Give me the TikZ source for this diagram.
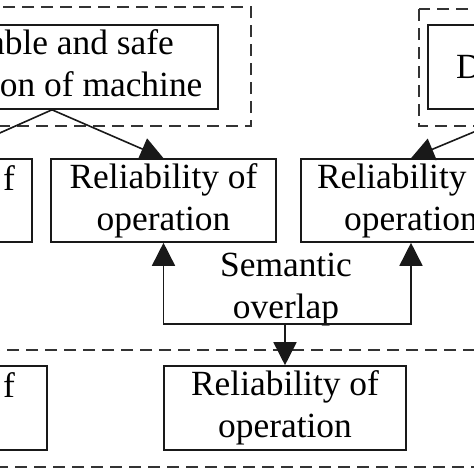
\documentclass[tikz,border=0pt]{standalone}
\usepackage{fontspec}
\setmainfont{Liberation Serif}
\usetikzlibrary{arrows.meta}
\begin{document}
\begin{tikzpicture}[x=1pt,y=-1pt,
  lbl/.style={font=\fontsize{35.4pt}{42pt}\selectfont, align=center, inner sep=0pt},
  box/.style={lbl, draw=black!90, line width=1.6pt},
  dbox/.style={draw=black!80, line width=1.6pt, dash pattern=on 12pt off 7pt},
  arr/.style={draw=black!90, line width=1.6pt, -{Triangle[length=23pt,width=23pt]}}]
\useasboundingbox (0,0) rectangle (474,474);
\clip (0,0) rectangle (474,474);
% dashed groups
\draw[dbox] (-130,7) rectangle (251,126);
\draw[dbox] (419,9) rectangle (640,126);
\draw[dbox] (-20,350) rectangle (500,467);
% top boxes
\node[box, minimum width=332pt, minimum height=84pt] (tl) at (52,67) {Reliable and safe\\operation of machine};
\node[box, minimum width=198pt, minimum height=84pt] (tr) at (527,67) {};
\node[lbl, anchor=base west] (dtxt) at (456,78) {D};
% middle row
\node[box, minimum width=178pt, minimum height=83pt] (lbox) at (-57,200.5) {};
\node[lbl, anchor=base east] (lf) at (15,190) {f};
\node[box, minimum width=225pt, minimum height=83pt] (mid) at (163.5,200.5) {Reliability of\\operation};
\node[box, minimum width=220pt, minimum height=83pt] (rbox) at (411,200.5) {Reliability of\\operation};
% semantic overlap
\node[lbl] (sem) at (286,290) {Semantic\\overlap};
\coordinate (j) at (285,324);
% bottom row
\node[box, minimum width=200pt, minimum height=84pt] (blbox) at (-53,408) {};
\node[lbl, anchor=base east] (blf) at (15,397) {f};
\node[box, minimum width=242pt, minimum height=84pt] (bot) at (285,408) {Reliability of\\operation};
% connectors
\draw[arr] (tl.south) -- (lbox.north);
\draw[arr] (tl.south) -- (mid.north);
\draw[arr] (tr.south) -- (rbox.north);
\draw[arr] (j) -| (mid.south);
\draw[arr] (j) -| (rbox.south);
\draw[arr] (j) -- (bot.north);
\end{tikzpicture}
\end{document}
